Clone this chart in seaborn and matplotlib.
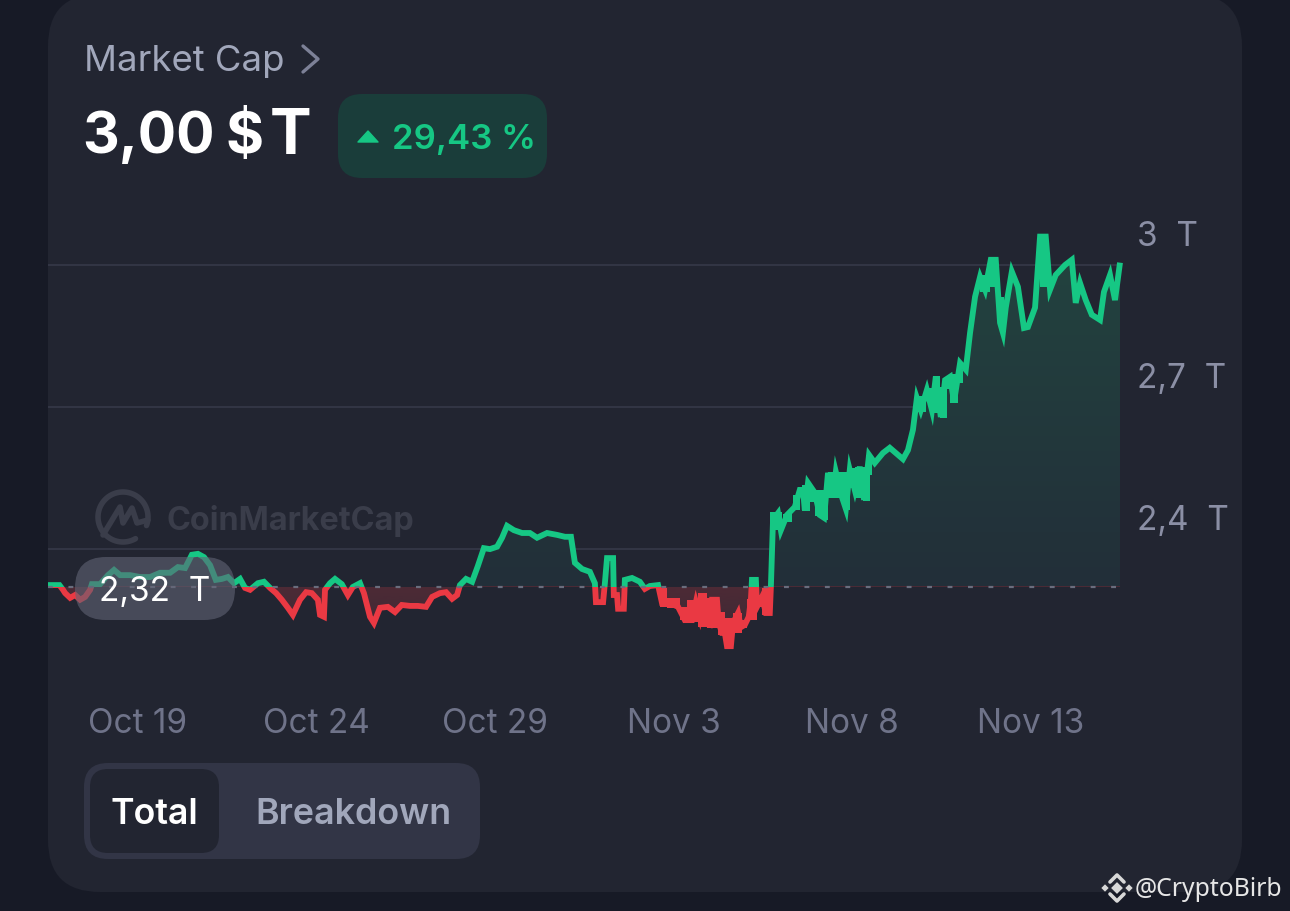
import numpy as np
import pandas as pd
import matplotlib
matplotlib.use("Agg")
import matplotlib.pyplot as plt
from matplotlib.colors import LinearSegmentedColormap
from matplotlib.patches import FancyBboxPatch, Polygon, Rectangle
import seaborn as sns

# days since Oct 19, market cap in $bn
days = [-2.52, -2.20, -2.10, -2.04, -1.90, -1.76, -1.62, -1.48, -1.34, -1.29, -1.06, -0.84, -0.67, -0.50, -0.22,
        0.06, 0.34, 0.62, 0.90, 1.12, 1.32, 1.51, 1.68, 1.85, 2.02, 2.18, 2.35, 2.52, 2.69, 2.86, 3.00, 3.14,
        3.36, 3.53, 3.70, 3.87, 4.03, 4.20, 4.34, 4.54, 4.71, 4.87, 5.04, 5.10, 5.21, 5.24, 5.38, 5.52, 5.71,
        5.88, 6.02, 6.22, 6.33, 6.50, 6.61, 6.78, 7.00, 7.20, 7.39, 7.62, 7.84, 8.07, 8.24, 8.46, 8.63, 8.80,
        8.94, 9.02, 9.19, 9.36, 9.52, 9.69, 9.86, 10.06, 10.20, 10.34, 10.53, 10.76, 10.98, 11.18, 11.46, 11.74,
        11.96, 12.13, 12.24, 12.44, 12.66, 12.80, 12.83, 13.03, 13.08, 13.14, 13.31, 13.33, 13.42, 13.45, 13.61,
        13.64, 13.84, 14.06, 14.20, 14.34, 14.57, 14.68, 14.90, 15.13, 15.32, 15.52, 15.63, 15.74, 15.83, 15.91,
        16.02, 16.08, 16.22, 16.27, 16.36, 16.44, 16.50, 16.61, 16.67, 16.81, 16.89, 17.00, 17.11, 17.17, 17.20,
        17.31, 17.34, 17.48, 17.59, 17.70, 17.73, 17.79, 17.93, 18.01, 18.18, 18.40, 18.54, 18.63, 18.68, 18.77,
        18.96, 19.10, 19.22, 19.33, 19.47, 19.55, 19.72, 19.83, 19.94, 20.08, 20.22, 20.34, 20.48, 20.64, 20.87,
        21.06, 21.29, 21.43, 21.57, 21.71, 21.82, 21.93, 22.10, 22.24, 22.35, 22.49, 22.61, 22.75, 22.86, 23.03,
        23.19, 23.31, 23.45, 23.59, 23.73, 23.89, 24.03, 24.15, 24.23, 24.31, 24.48, 24.65, 24.82, 24.93, 25.13,
        25.27, 25.43, 25.55, 25.71, 25.97, 26.16, 26.27, 26.39, 26.55, 26.72, 26.95, 27.06, 27.23, 27.37, 27.51]
cap_bn = [2324, 2324, 2314, 2307, 2297, 2303, 2293, 2299, 2314, 2326, 2326, 2345, 2356, 2345, 2345,
          2341, 2341, 2350, 2350, 2362, 2360, 2388, 2390, 2383, 2366, 2335, 2337, 2341, 2328, 2337, 2318, 2314,
          2328, 2331, 2318, 2307, 2293, 2276, 2261, 2293, 2309, 2307, 2293, 2261, 2257, 2314, 2328, 2337, 2326,
          2303, 2320, 2328, 2307, 2257, 2244, 2276, 2278, 2267, 2282, 2280, 2280, 2278, 2299, 2307, 2309, 2295,
          2303, 2324, 2337, 2331, 2364, 2402, 2400, 2405, 2424, 2449, 2440, 2434, 2434, 2424, 2434, 2430,
          2426, 2426, 2371, 2358, 2352, 2328, 2288, 2288, 2328, 2381, 2381, 2303, 2303, 2274, 2274,
          2335, 2339, 2331, 2316, 2322, 2324, 2286, 2286, 2278, 2250, 2250, 2288, 2257, 2295, 2242,
          2240, 2293, 2293, 2244, 2223, 2223, 2195, 2195, 2244, 2265, 2235, 2240, 2257, 2293, 2335,
          2335, 2278, 2299, 2265, 2265, 2320, 2462, 2476, 2440, 2472, 2489, 2525, 2525, 2483, 2540,
          2519, 2472, 2466, 2561, 2510, 2563, 2510, 2485, 2567, 2525, 2574, 2504, 2599, 2582, 2603,
          2614, 2599, 2590, 2609, 2652, 2719, 2694, 2736, 2694, 2764, 2679, 2757, 2764, 2711, 2793,
          2779, 2857, 2933, 2975, 2948, 3011, 3011, 2878, 2857, 2910, 2986, 2954, 2867, 2869, 2910,
          3060, 3060, 2948, 2979, 3000, 3011, 2920, 2962, 2926, 2895, 2884, 2943, 2979, 2926, 3005]
# stretches where the price swings so fast the line reads as a solid block
block_start = [17.70, 18.07, 18.35, 18.60, 18.82, 18.96, 19.16, 19.33, 19.75, 19.89, 20.08, 20.31, 20.39,
               21.82, 21.90, 22.07, 22.27, 22.46, 22.55, 22.75, 22.97,
               14.62, 14.82, 15.18, 15.38, 15.69, 15.94, 16.25, 16.44, 16.67, 16.92, 17.06, 17.34, 17.48,
               23.59, 23.87, 24.15, 25.27]
block_end = [18.04, 18.32, 18.54, 18.82, 18.96, 19.16, 19.33, 19.80, 19.94, 20.08, 20.36, 20.50, 20.56,
             21.93, 22.07, 22.27, 22.46, 22.66, 22.75, 22.97, 23.11,
             14.82, 15.18, 15.38, 15.69, 15.94, 16.25, 16.44, 16.67, 16.92, 17.06, 17.34, 17.48, 17.70,
             23.87, 24.09, 24.26, 25.49]
block_high = [2478, 2474, 2514, 2536, 2525, 2525, 2525, 2563, 2563, 2571, 2574, 2557, 2599,
              2724, 2724, 2740, 2766, 2743, 2762, 2770, 2779,
              2318, 2297, 2278, 2293, 2307, 2297, 2267, 2254, 2265, 2250, 2295, 2297, 2318,
              2979, 3011, 2933, 3060]
block_low = [2440, 2457, 2483, 2481, 2500, 2470, 2462, 2508, 2483, 2529, 2508, 2502, 2557,
             2690, 2690, 2719, 2688, 2677, 2738, 2709, 2751,
             2278, 2276, 2250, 2246, 2235, 2233, 2219, 2193, 2223, 2233, 2250, 2278, 2261,
             2943, 2954, 2857, 2954]
baseline_bn = 2320
x_ticks = [0, 5, 10, 15, 20, 25]
x_labels = ["Oct 19", "Oct 24", "Oct 29", "Nov 3", "Nov 8", "Nov 13"]
y_ticks = [2400, 2700, 3000]
y_labels = ["2,4  T", "2,7  T", "3  T"]

BG = "#171a26"
CARD = "#222531"
GREEN = "#16c784"
RED = "#ea3943"
MUTED = "#6f7389"
LABEL = "#a1a7bb"

sns.set_theme(style="dark", rc={"figure.facecolor": BG, "axes.facecolor": "none", "savefig.facecolor": BG})
plt.rcParams["font.family"] = ["Inter", "DejaVu Sans"]

W, H = 1290, 912
fig = plt.figure(figsize=(W / 100, H / 100), dpi=100)

# pixel canvas under the chart: card and watermark
back = fig.add_axes([0, 0, 1, 1], zorder=0)
back.set_xlim(0, W)
back.set_ylim(H - 1, -1)
back.axis("off")
back.add_patch(FancyBboxPatch((48, -6), 1194, 898, boxstyle="round,pad=0,rounding_size=52", fc=CARD, ec="none"))
t = np.radians(np.linspace(-20, 300, 80))
back.plot(123 + 25 * np.cos(t), 517 - 25 * np.sin(t), color="#3a3d4a", lw=4)
back.plot([103, 120, 123, 132, 137, 148], [535, 507, 523, 508, 523, 520], color="#3a3d4a", lw=4)
back.text(166, 520, "CoinMarketCap", color="#3a3d4a", fontsize=23.3, fontweight="bold", va="center")

# the chart itself
x0, x1 = 48, 1120
y0, y1 = 201, 691
ax = fig.add_axes([x0 / W, 1 - y1 / H, (x1 - x0) / W, (y1 - y0) / H], zorder=1)
xmin, xmax = -2.52, 27.51
bn_per_px = 300 / 142
ymax = 3000 + 65 * bn_per_px
ymin = 2320 - 103 * bn_per_px

df = pd.DataFrame({"day": days, "cap": cap_bn})
dx = df["day"].to_numpy()
dy = df["cap"].to_numpy(dtype=float)

for y in y_ticks:
    ax.axhline(y, color="#363948", lw=1.2, zorder=1)

# gradient fills, clipped to the area between curve and opening level
poly = Polygon(np.r_[[[xmin, baseline_bn]], np.c_[dx, dy], [[xmax, baseline_bn]]], transform=ax.transData)
green_cmap = LinearSegmentedColormap.from_list("g", ["#222f39", "#23423f"])
red_cmap = LinearSegmentedColormap.from_list("r", ["#3a2a36", "#4d2a35"])
grad = np.linspace(0, 1, 64).reshape(-1, 1)
im_g = ax.imshow(grad, extent=[xmin, xmax, baseline_bn, 3000], origin="lower", aspect="auto", cmap=green_cmap, zorder=2)
im_r = ax.imshow(grad, extent=[xmin, xmax, 2195, baseline_bn], origin="lower", aspect="auto", cmap=red_cmap, zorder=2)
im_g.set_clip_path(poly)
im_r.set_clip_path(poly)

ax.plot([xmin, xmax], [baseline_bn, baseline_bn], color="#6a6d7d", lw=1.6, linestyle=(0, (2.2, 7.0)), zorder=5)

# one curve drawn twice, each colour clipped to its side of the opening level
for color, clip in [(GREEN, (baseline_bn, ymax)), (RED, (ymin, baseline_bn))]:
    n = len(ax.lines)
    sns.lineplot(data=df, x="day", y="cap", ax=ax, color=color, lw=4.2, estimator=None, errorbar=None,
                 sort=False, legend=False, zorder=4, solid_joinstyle="miter", solid_capstyle="butt")
    line = ax.lines[n]
    line.set_clip_path(Rectangle((xmin - 1, clip[0]), xmax - xmin + 2, clip[1] - clip[0], transform=ax.transData))

for s, e, hi, lo in zip(block_start, block_end, block_high, block_low):
    ax.bar(s, hi - lo, width=e - s, bottom=lo, align="edge", color=GREEN if lo >= baseline_bn else RED, lw=0, zorder=4)

ax.set_xlim(xmin, xmax)
ax.set_ylim(ymin, ymax)
ax.set_xlabel("")
ax.set_ylabel("")
ax.set_xticks(x_ticks)
ax.set_xticklabels(x_labels, color=MUTED, fontsize=24)
ax.set_yticks([])
ax.tick_params(axis="x", length=0, pad=12)
for s in ax.spines.values():
    s.set_visible(False)
for y, lab in zip(y_ticks, y_labels):
    ax.annotate(lab, xy=(1, y), xycoords=("axes fraction", "data"), xytext=(12, 21), textcoords="offset points",
                color="#8b8fa5", fontsize=24, va="center", annotation_clip=False)

# header, badge, pill and toggle on top
top = fig.add_axes([0, 0, 1, 1], zorder=2)
top.set_xlim(0, W)
top.set_ylim(H - 1, -1)
top.axis("off")
top.patch.set_alpha(0)
top.text(84, 61, "Market Cap", color=LABEL, fontsize=26.3, va="center")
top.plot([303, 318, 303], [46, 59, 72], color="#7d8197", lw=2.4)
top.text(82, 137, "3,00", color="white", fontsize=41, fontweight="bold", va="center")
top.text(226, 137, "$", color="white", fontsize=42, fontweight="bold", va="center")
top.text(270, 137, "T", color="white", fontsize=45, fontweight="bold", va="center")
top.add_patch(FancyBboxPatch((338, 94), 209, 84, boxstyle="round,pad=0,rounding_size=24", fc="#1a3d3a", ec="none"))
top.add_patch(Polygon([[358, 142], [368, 131], [378, 142]], closed=True, fc=GREEN, ec=GREEN, lw=1, joinstyle="round"))
top.text(392, 139, "29,43 %", color=GREEN, fontsize=25, fontweight="semibold", va="center")
top.add_patch(FancyBboxPatch((75, 557), 160, 63, boxstyle="round,pad=0,rounding_size=31", fc="#616475", ec="none", alpha=0.6))
top.text(99, 591, "2,32  T", color="white", fontsize=24, va="center")
top.add_patch(FancyBboxPatch((84, 763), 396, 96, boxstyle="round,pad=0,rounding_size=24", fc="#323546", ec="none"))
top.add_patch(FancyBboxPatch((90, 769), 129, 84, boxstyle="round,pad=0,rounding_size=18", fc=CARD, ec="none"))
top.text(154.5, 814, "Total", color="white", fontsize=25.7, fontweight="semibold", ha="center", va="center")
top.text(353, 814, "Breakdown", color=LABEL, fontsize=25.8, fontweight="semibold", ha="center", va="center")
# binance mark beside the handle
top.scatter([1117, 1105, 1129], [888, 888, 888], marker="D", s=[36, 14, 14], color="#d8d8d8", lw=0)
top.plot([1110, 1117, 1124], [882, 875, 882], color="#d8d8d8", lw=2.6)
top.plot([1110, 1117, 1124], [894, 901, 894], color="#d8d8d8", lw=2.6)
top.text(1135, 889, "@CryptoBirb", color="#e6e6e6", fontsize=17.8, family="Noto Sans", va="center")

fig.savefig("out.png", dpi=100)
